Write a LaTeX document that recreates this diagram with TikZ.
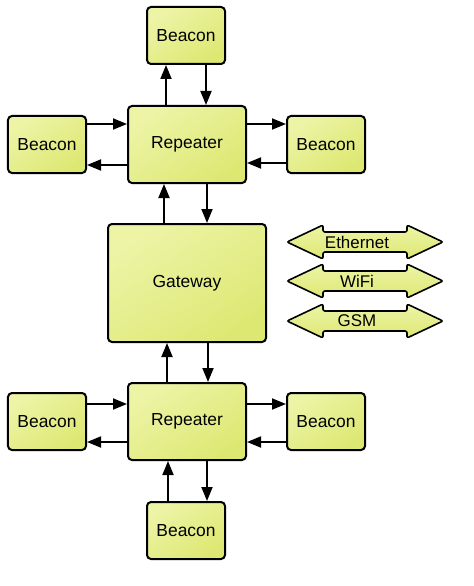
\documentclass[tikz,border=0pt]{standalone}
\usepackage{fontspec}
\setmainfont{Liberation Sans}
\usetikzlibrary{arrows.meta}
\definecolor{boxlight}{HTML}{EDF4A6}
\definecolor{boxdark}{HTML}{DDE873}
\tikzset{
  box/.style={draw=black, line width=2bp, rounded corners=4bp, inner sep=0pt,
    top color=boxlight, bottom color=boxdark, shading angle=35,
    font=\fontsize{17.5}{20}\selectfont},
  beacon/.style={box, minimum width=78bp, minimum height=57bp},
  repeater/.style={box, minimum width=118bp, minimum height=77bp},
  gateway/.style={box, minimum width=158bp, minimum height=118bp},
  arr/.style={line width=1.8bp, -{Triangle[length=14bp,width=11bp]}},
  link/.style={draw=black, line width=1.6bp, rounded corners=2bp,
    top color=boxlight, bottom color=boxdark},
  linktext/.style={font=\fontsize{17}{20}\selectfont, inner sep=0pt}
}
\newcommand{\dblarrow}[3]{%
  \path[link] (287,#1) -- (323,#1-17) -- (323,#1-10) -- (407,#1-10) -- (407,#1-17)
    -- (443,#1) -- (407,#1+17) -- (407,#1+10) -- (323,#1+10) -- (323,#1+17) -- cycle;
  \node[linktext] (#3) at (357,#1) {#2};}
\begin{document}
\begin{tikzpicture}[x=1bp,y=-1bp]
\useasboundingbox (0,0) rectangle (474,586);
% top cluster
\node[beacon] (bt) at (186,35.5) {Beacon};
\node[repeater] (r1) at (187,144.5) {Repeater};
\node[beacon] (bl1) at (47,144.5) {Beacon};
\node[beacon] (br1) at (326,144.5) {Beacon};
% gateway
\node[gateway] (gw) at (187,283) {Gateway};
% bottom cluster
\node[repeater] (r2) at (187,421.5) {Repeater};
\node[beacon] (bl2) at (47,421.5) {Beacon};
\node[beacon] (br2) at (326,421.5) {Beacon};
\node[beacon] (bb) at (186,530.5) {Beacon};
% arrows top
\draw[arr] ([xshift=-21bp]r1.north) -- ([xshift=-20bp]bt.south);
\draw[arr] ([xshift=20bp]bt.south) -- ([xshift=19bp]r1.north);
\draw[arr] ([yshift=20.5bp]bl1.east) -- ([yshift=20.5bp]r1.west);
\draw[arr] ([yshift=-20.5bp]r1.west) -- ([yshift=-20.5bp]bl1.east);
\draw[arr] ([yshift=20.5bp]r1.east) -- ([yshift=20.5bp]br1.west);
\draw[arr] ([yshift=-18.5bp]br1.west) -- ([yshift=-18.5bp]r1.east);
% arrows gateway
\draw[arr] ([xshift=-23bp]gw.north) -- ([xshift=-23bp]r1.south);
\draw[arr] ([xshift=20bp]r1.south) -- ([xshift=20bp]gw.north);
\draw[arr] ([xshift=-20bp]r2.north) -- ([xshift=-20bp]gw.south);
\draw[arr] ([xshift=21bp]gw.south) -- ([xshift=21bp]r2.north);
% arrows bottom
\draw[arr] ([yshift=17.5bp]bl2.east) -- ([yshift=17.5bp]r2.west);
\draw[arr] ([yshift=-20.5bp]r2.west) -- ([yshift=-20.5bp]bl2.east);
\draw[arr] ([yshift=17.5bp]r2.east) -- ([yshift=17.5bp]br2.west);
\draw[arr] ([yshift=-20.5bp]br2.west) -- ([yshift=-20.5bp]r2.east);
\draw[arr] ([xshift=-18bp]bb.north) -- ([xshift=-19bp]r2.south);
\draw[arr] ([xshift=20bp]r2.south) -- ([xshift=21bp]bb.north);
% link types
\dblarrow{242}{Ethernet}{eth}
\dblarrow{281}{WiFi}{wifi}
\dblarrow{321}{GSM}{gsm}
\end{tikzpicture}
\end{document}
